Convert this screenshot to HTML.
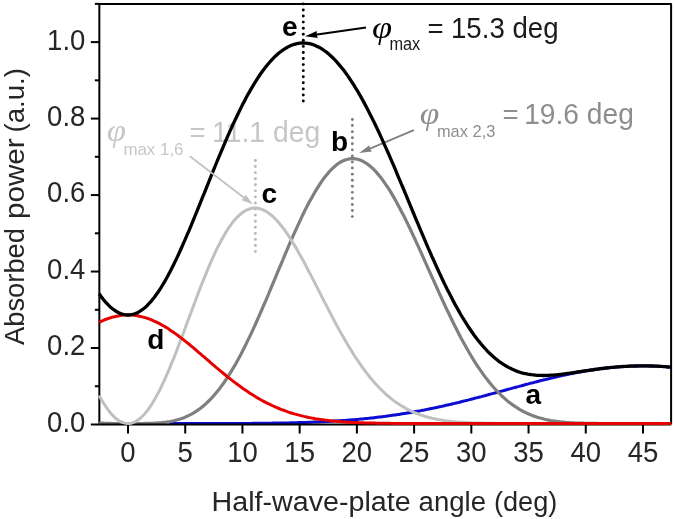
<!DOCTYPE html>
<html><head><meta charset="utf-8"><title>Absorbed power vs half-wave-plate angle</title>
<style>html,body{margin:0;padding:0;background:#fff;overflow:hidden}svg{display:block}</style>
</head><body>
<svg width="675" height="519" viewBox="0 0 675 519"><rect width="675" height="519" fill="#fff"/>
<path d="M99.35 424.5 V4.0 H671.1 V424.5" fill="none" stroke="#000" stroke-width="2" stroke-linejoin="round"/>
<line x1="90.85" y1="424.50" x2="99.35" y2="424.50" stroke="#000" stroke-width="2"/>
<line x1="94.85" y1="386.26" x2="99.35" y2="386.26" stroke="#000" stroke-width="2"/>
<line x1="90.85" y1="348.02" x2="99.35" y2="348.02" stroke="#000" stroke-width="2"/>
<line x1="94.85" y1="309.78" x2="99.35" y2="309.78" stroke="#000" stroke-width="2"/>
<line x1="90.85" y1="271.54" x2="99.35" y2="271.54" stroke="#000" stroke-width="2"/>
<line x1="94.85" y1="233.30" x2="99.35" y2="233.30" stroke="#000" stroke-width="2"/>
<line x1="90.85" y1="195.06" x2="99.35" y2="195.06" stroke="#000" stroke-width="2"/>
<line x1="94.85" y1="156.82" x2="99.35" y2="156.82" stroke="#000" stroke-width="2"/>
<line x1="90.85" y1="118.58" x2="99.35" y2="118.58" stroke="#000" stroke-width="2"/>
<line x1="94.85" y1="80.34" x2="99.35" y2="80.34" stroke="#000" stroke-width="2"/>
<line x1="90.85" y1="42.10" x2="99.35" y2="42.10" stroke="#000" stroke-width="2"/>
<line x1="94.85" y1="3.86" x2="99.35" y2="3.86" stroke="#000" stroke-width="2"/>
<line x1="128.00" y1="424.5" x2="128.00" y2="433.5" stroke="#000" stroke-width="2"/>
<line x1="185.22" y1="424.5" x2="185.22" y2="433.5" stroke="#000" stroke-width="2"/>
<line x1="242.44" y1="424.5" x2="242.44" y2="433.5" stroke="#000" stroke-width="2"/>
<line x1="299.66" y1="424.5" x2="299.66" y2="433.5" stroke="#000" stroke-width="2"/>
<line x1="356.88" y1="424.5" x2="356.88" y2="433.5" stroke="#000" stroke-width="2"/>
<line x1="414.10" y1="424.5" x2="414.10" y2="433.5" stroke="#000" stroke-width="2"/>
<line x1="471.32" y1="424.5" x2="471.32" y2="433.5" stroke="#000" stroke-width="2"/>
<line x1="528.54" y1="424.5" x2="528.54" y2="433.5" stroke="#000" stroke-width="2"/>
<line x1="585.76" y1="424.5" x2="585.76" y2="433.5" stroke="#000" stroke-width="2"/>
<line x1="642.98" y1="424.5" x2="642.98" y2="433.5" stroke="#000" stroke-width="2"/>
<text transform="translate(85.3 431.90) scale(1 1.065)" font-family="'Liberation Sans', sans-serif" font-size="27.5" text-anchor="end" fill="#262626">0.0</text>
<text transform="translate(85.3 355.42) scale(1 1.065)" font-family="'Liberation Sans', sans-serif" font-size="27.5" text-anchor="end" fill="#262626">0.2</text>
<text transform="translate(85.3 278.94) scale(1 1.065)" font-family="'Liberation Sans', sans-serif" font-size="27.5" text-anchor="end" fill="#262626">0.4</text>
<text transform="translate(85.3 202.46) scale(1 1.065)" font-family="'Liberation Sans', sans-serif" font-size="27.5" text-anchor="end" fill="#262626">0.6</text>
<text transform="translate(85.3 125.98) scale(1 1.065)" font-family="'Liberation Sans', sans-serif" font-size="27.5" text-anchor="end" fill="#262626">0.8</text>
<text transform="translate(85.3 49.50) scale(1 1.065)" font-family="'Liberation Sans', sans-serif" font-size="27.5" text-anchor="end" fill="#262626">1.0</text>
<text transform="translate(128.00 461.7) scale(1 1.065)" font-family="'Liberation Sans', sans-serif" font-size="27.5" text-anchor="middle" fill="#262626">0</text>
<text transform="translate(185.22 461.7) scale(1 1.065)" font-family="'Liberation Sans', sans-serif" font-size="27.5" text-anchor="middle" fill="#262626">5</text>
<text transform="translate(242.44 461.7) scale(1 1.065)" font-family="'Liberation Sans', sans-serif" font-size="27.5" text-anchor="middle" fill="#262626">10</text>
<text transform="translate(299.66 461.7) scale(1 1.065)" font-family="'Liberation Sans', sans-serif" font-size="27.5" text-anchor="middle" fill="#262626">15</text>
<text transform="translate(356.88 461.7) scale(1 1.065)" font-family="'Liberation Sans', sans-serif" font-size="27.5" text-anchor="middle" fill="#262626">20</text>
<text transform="translate(414.10 461.7) scale(1 1.065)" font-family="'Liberation Sans', sans-serif" font-size="27.5" text-anchor="middle" fill="#262626">25</text>
<text transform="translate(471.32 461.7) scale(1 1.065)" font-family="'Liberation Sans', sans-serif" font-size="27.5" text-anchor="middle" fill="#262626">30</text>
<text transform="translate(528.54 461.7) scale(1 1.065)" font-family="'Liberation Sans', sans-serif" font-size="27.5" text-anchor="middle" fill="#262626">35</text>
<text transform="translate(585.76 461.7) scale(1 1.065)" font-family="'Liberation Sans', sans-serif" font-size="27.5" text-anchor="middle" fill="#262626">40</text>
<text transform="translate(642.98 461.7) scale(1 1.065)" font-family="'Liberation Sans', sans-serif" font-size="27.5" text-anchor="middle" fill="#262626">45</text>
<text x="211.50" y="510.50" font-family="'Liberation Sans', sans-serif" font-size="27" textLength="199.1" lengthAdjust="spacingAndGlyphs" fill="#262626">Half-wave-plate</text>
<text x="418.60" y="510.50" font-family="'Liberation Sans', sans-serif" font-size="27" textLength="67.4" lengthAdjust="spacingAndGlyphs" fill="#262626">angle</text>
<text x="493.90" y="510.50" font-family="'Liberation Sans', sans-serif" font-size="27" textLength="63.4" lengthAdjust="spacingAndGlyphs" fill="#262626">(deg)</text>
<text transform="translate(23.5 345.00) rotate(-90)" font-family="'Liberation Sans', sans-serif" font-size="27" textLength="117.0" lengthAdjust="spacingAndGlyphs" fill="#262626">Absorbed</text>
<text transform="translate(23.5 219.00) rotate(-90)" font-family="'Liberation Sans', sans-serif" font-size="27" textLength="80.7" lengthAdjust="spacingAndGlyphs" fill="#262626">power</text>
<text transform="translate(23.5 132.40) rotate(-90)" font-family="'Liberation Sans', sans-serif" font-size="27" textLength="64.2" lengthAdjust="spacingAndGlyphs" fill="#262626">(a.u.)</text>
<text transform="translate(106.66 141.28) scale(0.3480 0.3059)" font-family="'Liberation Serif', serif" font-style="italic" font-size="100" fill="#c6c6c6">&#x3c6;</text>
<text x="123.40" y="154.70" font-family="'Liberation Sans', sans-serif" font-size="17" textLength="60.1" lengthAdjust="spacingAndGlyphs" fill="#c6c6c6">max 1,6</text>
<text x="189.4" y="141.6" font-family="'Liberation Sans', sans-serif" font-size="27.5" fill="#c6c6c6">=</text>
<text transform="translate(212.00 141.60) scale(1 1.04)" font-family="'Liberation Sans', sans-serif" font-size="27.5" textLength="108.2" lengthAdjust="spacingAndGlyphs" fill="#c6c6c6">11.1 deg</text>
<text transform="translate(419.84 123.95) scale(0.3540 0.3118)" font-family="'Liberation Serif', serif" font-style="italic" font-size="100" fill="#8e8e8e">&#x3c6;</text>
<text x="436.90" y="136.80" font-family="'Liberation Sans', sans-serif" font-size="17" textLength="58.5" lengthAdjust="spacingAndGlyphs" fill="#8e8e8e">max 2,3</text>
<text x="502.4" y="124.0" font-family="'Liberation Sans', sans-serif" font-size="27.5" fill="#8e8e8e">=</text>
<text transform="translate(524.20 123.90) scale(1 1.04)" font-family="'Liberation Sans', sans-serif" font-size="27.5" textLength="109.6" lengthAdjust="spacingAndGlyphs" fill="#8e8e8e">19.6 deg</text>
<text transform="translate(372.01 37.55) scale(0.3640 0.3074)" font-family="'Liberation Serif', serif" font-style="italic" font-size="100" fill="#000">&#x3c6;</text>
<text x="389.40" y="50.20" font-family="'Liberation Sans', sans-serif" font-size="17.5" textLength="30.9" lengthAdjust="spacingAndGlyphs" fill="#1a1a1a">max</text>
<text x="427.5" y="37.6" font-family="'Liberation Sans', sans-serif" font-size="27.5" fill="#1a1a1a">=</text>
<text transform="translate(451.00 37.60) scale(1 1.04)" font-family="'Liberation Sans', sans-serif" font-size="27.5" textLength="107.5" lengthAdjust="spacingAndGlyphs" fill="#1a1a1a">15.3 deg</text>
<circle cx="255.40" cy="160.50" r="1.45" fill="#b8b8b8"/><circle cx="255.40" cy="166.57" r="1.45" fill="#b8b8b8"/><circle cx="255.40" cy="172.64" r="1.45" fill="#b8b8b8"/><circle cx="255.40" cy="178.71" r="1.45" fill="#b8b8b8"/><circle cx="255.40" cy="184.78" r="1.45" fill="#b8b8b8"/><circle cx="255.40" cy="190.85" r="1.45" fill="#b8b8b8"/><circle cx="255.40" cy="196.92" r="1.45" fill="#b8b8b8"/><circle cx="255.40" cy="202.99" r="1.45" fill="#b8b8b8"/><circle cx="255.40" cy="209.06" r="1.45" fill="#b8b8b8"/><circle cx="255.40" cy="215.13" r="1.45" fill="#b8b8b8"/><circle cx="255.40" cy="221.20" r="1.45" fill="#b8b8b8"/><circle cx="255.40" cy="227.27" r="1.45" fill="#b8b8b8"/><circle cx="255.40" cy="233.34" r="1.45" fill="#b8b8b8"/><circle cx="255.40" cy="239.41" r="1.45" fill="#b8b8b8"/><circle cx="255.40" cy="245.48" r="1.45" fill="#b8b8b8"/><circle cx="255.40" cy="251.55" r="1.45" fill="#b8b8b8"/>
<circle cx="352.35" cy="119.50" r="1.45" fill="#7c7c7c"/><circle cx="352.35" cy="125.57" r="1.45" fill="#7c7c7c"/><circle cx="352.35" cy="131.64" r="1.45" fill="#7c7c7c"/><circle cx="352.35" cy="137.71" r="1.45" fill="#7c7c7c"/><circle cx="352.35" cy="143.78" r="1.45" fill="#7c7c7c"/><circle cx="352.35" cy="149.85" r="1.45" fill="#7c7c7c"/><circle cx="352.35" cy="155.92" r="1.45" fill="#7c7c7c"/><circle cx="352.35" cy="161.99" r="1.45" fill="#7c7c7c"/><circle cx="352.35" cy="168.06" r="1.45" fill="#7c7c7c"/><circle cx="352.35" cy="174.13" r="1.45" fill="#7c7c7c"/><circle cx="352.35" cy="180.20" r="1.45" fill="#7c7c7c"/><circle cx="352.35" cy="186.27" r="1.45" fill="#7c7c7c"/><circle cx="352.35" cy="192.34" r="1.45" fill="#7c7c7c"/><circle cx="352.35" cy="198.41" r="1.45" fill="#7c7c7c"/><circle cx="352.35" cy="204.48" r="1.45" fill="#7c7c7c"/><circle cx="352.35" cy="210.55" r="1.45" fill="#7c7c7c"/><circle cx="352.35" cy="216.62" r="1.45" fill="#7c7c7c"/>
<circle cx="303.30" cy="3.90" r="1.45" fill="#000"/><circle cx="303.30" cy="9.97" r="1.45" fill="#000"/><circle cx="303.30" cy="16.04" r="1.45" fill="#000"/><circle cx="303.30" cy="22.11" r="1.45" fill="#000"/><circle cx="303.30" cy="28.18" r="1.45" fill="#000"/><circle cx="303.30" cy="34.25" r="1.45" fill="#000"/><circle cx="303.30" cy="40.32" r="1.45" fill="#000"/><circle cx="303.30" cy="46.39" r="1.45" fill="#000"/><circle cx="303.30" cy="52.46" r="1.45" fill="#000"/><circle cx="303.30" cy="58.53" r="1.45" fill="#000"/><circle cx="303.30" cy="64.60" r="1.45" fill="#000"/><circle cx="303.30" cy="70.67" r="1.45" fill="#000"/><circle cx="303.30" cy="76.74" r="1.45" fill="#000"/><circle cx="303.30" cy="82.81" r="1.45" fill="#000"/><circle cx="303.30" cy="88.88" r="1.45" fill="#000"/><circle cx="303.30" cy="94.95" r="1.45" fill="#000"/><circle cx="303.30" cy="101.02" r="1.45" fill="#000"/>
<line x1="413.90" y1="130.20" x2="368.79" y2="149.05" stroke="#808080" stroke-width="1.8"/><polygon points="359.10,153.10 369.32,145.14 369.90,148.59 371.94,151.42" fill="#808080"/>
<path d="M169.2 423.5 L170.9 423.5 L172.6 423.5 L174.2 423.5 L175.9 423.5 L177.6 423.5 L179.3 423.5 L180.9 423.5 L182.6 423.5 L184.3 423.5 L186.0 423.5 L187.7 423.5 L189.3 423.5 L191.0 423.5 L192.7 423.5 L194.4 423.5 L196.1 423.5 L197.7 423.5 L199.4 423.5 L201.1 423.5 L202.8 423.5 L204.4 423.5 L206.1 423.5 L207.8 423.5 L209.5 423.5 L211.2 423.5 L212.8 423.5 L214.5 423.5 L216.2 423.5 L217.9 423.5 L219.5 423.5 L221.2 423.5 L222.9 423.5 L224.6 423.5 L226.3 423.5 L227.9 423.5 L229.6 423.5 L231.3 423.4 L233.0 423.4 L234.7 423.4 L236.3 423.4 L238.0 423.4 L239.7 423.4 L241.4 423.4 L243.0 423.4 L244.7 423.4 L246.4 423.4 L248.1 423.4 L249.8 423.4 L251.4 423.4 L253.1 423.3 L254.8 423.3 L256.5 423.3 L258.1 423.3 L259.8 423.3 L261.5 423.3 L263.2 423.3 L264.9 423.2 L266.5 423.2 L268.2 423.2 L269.9 423.2 L271.6 423.2 L273.3 423.1 L274.9 423.1 L276.6 423.1 L278.3 423.1 L280.0 423.0 L281.6 423.0 L283.3 423.0 L285.0 422.9 L286.7 422.9 L288.4 422.9 L290.0 422.8 L291.7 422.8 L293.4 422.8 L295.1 422.7 L296.8 422.7 L298.4 422.6 L300.1 422.6 L301.8 422.5 L303.5 422.5 L305.1 422.4 L306.8 422.4 L308.5 422.3 L310.2 422.3 L311.9 422.2 L313.5 422.1 L315.2 422.1 L316.9 422.0 L318.6 421.9 L320.2 421.8 L321.9 421.8 L323.6 421.7 L325.3 421.6 L327.0 421.5 L328.6 421.4 L330.3 421.3 L332.0 421.2 L333.7 421.1 L335.4 421.0 L337.0 420.9 L338.7 420.8 L340.4 420.7 L342.1 420.6 L343.7 420.5 L345.4 420.4 L347.1 420.2 L348.8 420.1 L350.5 420.0 L352.1 419.8 L353.8 419.7 L355.5 419.6 L357.2 419.4 L358.8 419.3 L360.5 419.1 L362.2 418.9 L363.9 418.8 L365.6 418.6 L367.2 418.4 L368.9 418.3 L370.6 418.1 L372.3 417.9 L374.0 417.7 L375.6 417.5 L377.3 417.3 L379.0 417.1 L380.7 416.9 L382.3 416.7 L384.0 416.5 L385.7 416.3 L387.4 416.0 L389.1 415.8 L390.7 415.6 L392.4 415.3 L394.1 415.1 L395.8 414.9 L397.5 414.6 L399.1 414.4 L400.8 414.1 L402.5 413.8 L404.2 413.6 L405.8 413.3 L407.5 413.0 L409.2 412.7 L410.9 412.4 L412.6 412.1 L414.2 411.8 L415.9 411.5 L417.6 411.2 L419.3 410.9 L420.9 410.6 L422.6 410.3 L424.3 410.0 L426.0 409.6 L427.7 409.3 L429.3 408.9 L431.0 408.6 L432.7 408.3 L434.4 407.9 L436.1 407.6 L437.7 407.2 L439.4 406.8 L441.1 406.5 L442.8 406.1 L444.4 405.7 L446.1 405.3 L447.8 404.9 L449.5 404.6 L451.2 404.2 L452.8 403.8 L454.5 403.4 L456.2 403.0 L457.9 402.6 L459.5 402.2 L461.2 401.7 L462.9 401.3 L464.6 400.9 L466.3 400.5 L467.9 400.1 L469.6 399.6 L471.3 399.2 L473.0 398.8 L474.7 398.3 L476.3 397.9 L478.0 397.5 L479.7 397.0 L481.4 396.6 L483.0 396.1 L484.7 395.7 L486.4 395.2 L488.1 394.8 L489.8 394.3 L491.4 393.9 L493.1 393.4 L494.8 393.0 L496.5 392.5 L498.2 392.1 L499.8 391.6 L501.5 391.1 L503.2 390.7 L504.9 390.2 L506.5 389.8 L508.2 389.3 L509.9 388.9 L511.6 388.4 L513.3 387.9 L514.9 387.5 L516.6 387.0 L518.3 386.6 L520.0 386.1 L521.6 385.7 L523.3 385.2 L525.0 384.8 L526.7 384.3 L528.4 383.9 L530.0 383.4 L531.7 383.0 L533.4 382.6 L535.1 382.1 L536.8 381.7 L538.4 381.3 L540.1 380.8 L541.8 380.4 L543.5 380.0 L545.1 379.6 L546.8 379.2 L548.5 378.8 L550.2 378.4 L551.9 378.0 L553.5 377.6 L555.2 377.2 L556.9 376.8 L558.6 376.4 L560.2 376.0 L561.9 375.6 L563.6 375.3 L565.3 374.9 L567.0 374.6 L568.6 374.2 L570.3 373.9 L572.0 373.5 L573.7 373.2 L575.4 372.8 L577.0 372.5 L578.7 372.2 L580.4 371.9 L582.1 371.6 L583.7 371.3 L585.4 371.0 L587.1 370.7 L588.8 370.5 L590.5 370.2 L592.1 369.9 L593.8 369.7 L595.5 369.4 L597.2 369.2 L598.8 369.0 L600.5 368.7 L602.2 368.5 L603.9 368.3 L605.6 368.1 L607.2 367.9 L608.9 367.7 L610.6 367.6 L612.3 367.4 L614.0 367.2 L615.6 367.1 L617.3 367.0 L619.0 366.8 L620.7 366.7 L622.3 366.6 L624.0 366.5 L625.7 366.4 L627.4 366.3 L629.1 366.2 L630.7 366.1 L632.4 366.1 L634.1 366.0 L635.8 366.0 L637.5 365.9 L639.1 365.9 L640.8 365.9 L642.5 365.9 L644.2 365.9 L645.8 365.9 L647.5 365.9 L649.2 366.0 L650.9 366.0 L652.6 366.0 L654.2 366.1 L655.9 366.2 L657.6 366.2 L659.3 366.3 L660.9 366.4 L662.6 366.5 L664.3 366.6 L666.0 366.7 L667.7 366.9 L669.3 367.0 L671.0 367.2" fill="none" stroke="#0c0cd2" stroke-width="3"/>
<path d="M99.2 423.1 L101.1 423.2 L103.0 423.2 L104.9 423.3 L106.8 423.4 L108.7 423.4 L110.6 423.4 L112.5 423.5 L114.5 423.5 L116.4 423.5 L118.3 423.5 L120.2 423.5 L122.1 423.5 L124.0 423.5 L125.9 423.5 L127.8 423.5 L129.8 423.5 L131.7 423.5 L133.6 423.5 L135.5 423.5 L137.4 423.5 L139.3 423.5 L141.2 423.5 L143.2 423.5 L145.1 423.4 L147.0 423.4 L148.9 423.4 L150.8 423.3 L152.7 423.3 L154.6 423.2 L156.5 423.1 L158.5 422.9 L160.4 422.8 L162.3 422.6 L164.2 422.4 L166.1 422.2 L168.0 421.9 L169.9 421.6 L171.8 421.2 L173.8 420.8 L175.7 420.3 L177.6 419.8 L179.5 419.2 L181.4 418.6 L183.3 417.9 L185.2 417.1 L187.1 416.3 L189.1 415.4 L191.0 414.4 L192.9 413.3 L194.8 412.2 L196.7 410.9 L198.6 409.6 L200.5 408.2 L202.4 406.7 L204.4 405.1 L206.3 403.3 L208.2 401.5 L210.1 399.6 L212.0 397.6 L213.9 395.5 L215.8 393.2 L217.7 390.9 L219.7 388.5 L221.6 385.9 L223.5 383.3 L225.4 380.5 L227.3 377.6 L229.2 374.7 L231.1 371.6 L233.0 368.4 L235.0 365.1 L236.9 361.7 L238.8 358.2 L240.7 354.7 L242.6 351.0 L244.5 347.2 L246.4 343.4 L248.3 339.4 L250.3 335.4 L252.2 331.3 L254.1 327.2 L256.0 323.0 L257.9 318.7 L259.8 314.4 L261.7 310.0 L263.6 305.5 L265.6 301.1 L267.5 296.5 L269.4 292.0 L271.3 287.4 L273.2 282.9 L275.1 278.3 L277.0 273.7 L278.9 269.1 L280.9 264.5 L282.8 260.0 L284.7 255.4 L286.6 250.9 L288.5 246.4 L290.4 242.0 L292.3 237.6 L294.2 233.3 L296.2 229.1 L298.1 224.9 L300.0 220.8 L301.9 216.7 L303.8 212.8 L305.7 208.9 L307.6 205.2 L309.5 201.6 L311.5 198.1 L313.4 194.7 L315.3 191.4 L317.2 188.3 L319.1 185.3 L321.0 182.4 L322.9 179.7 L324.8 177.1 L326.8 174.7 L328.7 172.4 L330.6 170.3 L332.5 168.4 L334.4 166.7 L336.3 165.1 L338.2 163.6 L340.1 162.4 L342.1 161.3 L344.0 160.4 L345.9 159.7 L347.8 159.2 L349.7 158.8 L351.6 158.7 L353.5 158.7 L355.4 158.9 L357.4 159.2 L359.3 159.8 L361.2 160.5 L363.1 161.4 L365.0 162.5 L366.9 163.7 L368.8 165.1 L370.7 166.7 L372.7 168.4 L374.6 170.3 L376.5 172.4 L378.4 174.6 L380.3 176.9 L382.2 179.4 L384.1 182.1 L386.0 184.8 L388.0 187.7 L389.9 190.7 L391.8 193.9 L393.7 197.1 L395.6 200.5 L397.5 204.0 L399.4 207.5 L401.3 211.2 L403.3 214.9 L405.2 218.7 L407.1 222.6 L409.0 226.5 L410.9 230.5 L412.8 234.6 L414.7 238.7 L416.6 242.9 L418.6 247.1 L420.5 251.3 L422.4 255.5 L424.3 259.8 L426.2 264.1 L428.1 268.4 L430.0 272.6 L431.9 276.9 L433.9 281.2 L435.8 285.4 L437.7 289.7 L439.6 293.9 L441.5 298.0 L443.4 302.2 L445.3 306.3 L447.2 310.3 L449.2 314.3 L451.1 318.3 L453.0 322.2 L454.9 326.0 L456.8 329.8 L458.7 333.5 L460.6 337.2 L462.5 340.7 L464.5 344.2 L466.4 347.7 L468.3 351.0 L470.2 354.3 L472.1 357.5 L474.0 360.6 L475.9 363.6 L477.8 366.5 L479.8 369.3 L481.7 372.1 L483.6 374.8 L485.5 377.4 L487.4 379.8 L489.3 382.3 L491.2 384.6 L493.1 386.8 L495.1 389.0 L497.0 391.0 L498.9 393.0 L500.8 394.9 L502.7 396.7 L504.6 398.4 L506.5 400.1 L508.4 401.7 L510.4 403.2 L512.3 404.6 L514.2 405.9 L516.1 407.2 L518.0 408.4 L519.9 409.6 L521.8 410.6 L523.8 411.7 L525.7 412.6 L527.6 413.5 L529.5 414.3 L531.4 415.1 L533.3 415.9 L535.2 416.5 L537.1 417.2 L539.1 417.8 L541.0 418.3 L542.9 418.8 L544.8 419.3 L546.7 419.7 L548.6 420.1 L550.5 420.5 L552.4 420.8 L554.4 421.1 L556.3 421.4 L558.2 421.6 L560.1 421.8 L562.0 422.1 L563.9 422.2 L565.8 422.4 L567.7 422.5 L569.7 422.7 L571.6 422.8 L573.5 422.9 L575.4 423.0 L577.3 423.1 L579.2 423.1 L581.1 423.2 L583.0 423.2 L585.0 423.3 L586.9 423.3 L588.8 423.4 L590.7 423.4 L592.6 423.4 L594.5 423.4 L596.4 423.4 L598.3 423.5 L600.3 423.5 L602.2 423.5 L604.1 423.5 L606.0 423.5 L607.9 423.5 L609.8 423.5 L611.7 423.5 L613.6 423.5 L615.6 423.5 L617.5 423.5 L619.4 423.5 L621.3 423.5 L623.2 423.5 L625.1 423.5 L627.0 423.5 L628.9 423.5 L630.9 423.5 L632.8 423.5 L634.7 423.5 L636.6 423.5 L638.5 423.5 L640.4 423.5 L642.3 423.5 L644.2 423.5 L646.2 423.5 L648.1 423.5 L650.0 423.5 L651.9 423.5 L653.8 423.5 L655.7 423.5 L657.6 423.5 L659.5 423.5 L661.5 423.5 L663.4 423.5 L665.3 423.5 L667.2 423.5 L669.1 423.5 L671.0 423.5" fill="none" stroke="#7f7f7f" stroke-width="3.2"/>
<line x1="99.35" y1="424.5" x2="671.1" y2="424.5" stroke="#000" stroke-width="2"/>
<path d="M99.2 395.5 L101.1 398.9 L103.0 402.2 L104.9 405.2 L106.8 408.0 L108.7 410.6 L110.6 413.0 L112.5 415.2 L114.5 417.1 L116.4 418.8 L118.3 420.2 L120.2 421.4 L122.1 422.3 L124.0 422.9 L125.9 423.3 L127.8 423.5 L129.8 423.4 L131.7 423.0 L133.6 422.4 L135.5 421.5 L137.4 420.4 L139.3 419.0 L141.2 417.4 L143.2 415.5 L145.1 413.4 L147.0 411.0 L148.9 408.5 L150.8 405.7 L152.7 402.7 L154.6 399.4 L156.5 396.0 L158.5 392.4 L160.4 388.7 L162.3 384.7 L164.2 380.6 L166.1 376.4 L168.0 372.0 L169.9 367.4 L171.8 362.8 L173.8 358.1 L175.7 353.2 L177.6 348.3 L179.5 343.3 L181.4 338.3 L183.3 333.2 L185.2 328.1 L187.1 322.9 L189.1 317.8 L191.0 312.6 L192.9 307.5 L194.8 302.4 L196.7 297.3 L198.6 292.3 L200.5 287.3 L202.4 282.4 L204.4 277.6 L206.3 272.9 L208.2 268.3 L210.1 263.9 L212.0 259.5 L213.9 255.3 L215.8 251.2 L217.7 247.2 L219.7 243.5 L221.6 239.8 L223.5 236.4 L225.4 233.1 L227.3 230.0 L229.2 227.2 L231.1 224.5 L233.0 221.9 L235.0 219.6 L236.9 217.5 L238.8 215.6 L240.7 214.0 L242.6 212.5 L244.5 211.2 L246.4 210.2 L248.3 209.3 L250.3 208.7 L252.2 208.3 L254.1 208.1 L256.0 208.1 L257.9 208.3 L259.8 208.7 L261.7 209.3 L263.6 210.1 L265.6 211.1 L267.5 212.2 L269.4 213.6 L271.3 215.1 L273.2 216.8 L275.1 218.7 L277.0 220.7 L278.9 222.8 L280.9 225.2 L282.8 227.6 L284.7 230.2 L286.6 232.9 L288.5 235.8 L290.4 238.7 L292.3 241.8 L294.2 244.9 L296.2 248.1 L298.1 251.5 L300.0 254.9 L301.9 258.3 L303.8 261.8 L305.7 265.4 L307.6 269.1 L309.5 272.7 L311.5 276.4 L313.4 280.1 L315.3 283.9 L317.2 287.6 L319.1 291.4 L321.0 295.1 L322.9 298.9 L324.8 302.6 L326.8 306.4 L328.7 310.1 L330.6 313.7 L332.5 317.4 L334.4 321.0 L336.3 324.6 L338.2 328.1 L340.1 331.5 L342.1 335.0 L344.0 338.3 L345.9 341.6 L347.8 344.9 L349.7 348.0 L351.6 351.1 L353.5 354.2 L355.4 357.2 L357.4 360.0 L359.3 362.9 L361.2 365.6 L363.1 368.3 L365.0 370.9 L366.9 373.4 L368.8 375.8 L370.7 378.2 L372.7 380.5 L374.6 382.7 L376.5 384.8 L378.4 386.8 L380.3 388.8 L382.2 390.7 L384.1 392.5 L386.0 394.3 L388.0 396.0 L389.9 397.6 L391.8 399.1 L393.7 400.6 L395.6 402.0 L397.5 403.3 L399.4 404.6 L401.3 405.8 L403.3 406.9 L405.2 408.0 L407.1 409.1 L409.0 410.0 L410.9 411.0 L412.8 411.8 L414.7 412.7 L416.6 413.4 L418.6 414.2 L420.5 414.9 L422.4 415.5 L424.3 416.1 L426.2 416.7 L428.1 417.2 L430.0 417.7 L431.9 418.2 L433.9 418.6 L435.8 419.0 L437.7 419.4 L439.6 419.7 L441.5 420.1 L443.4 420.4 L445.3 420.7 L447.2 420.9 L449.2 421.1 L451.1 421.4 L453.0 421.6 L454.9 421.7 L456.8 421.9 L458.7 422.1 L460.6 422.2 L462.5 422.3 L464.5 422.5 L466.4 422.6 L468.3 422.7 L470.2 422.8 L472.1 422.8 L474.0 422.9 L475.9 423.0 L477.8 423.0 L479.8 423.1 L481.7 423.1 L483.6 423.2 L485.5 423.2 L487.4 423.3 L489.3 423.3 L491.2 423.3 L493.1 423.3 L495.1 423.4 L497.0 423.4 L498.9 423.4 L500.8 423.4 L502.7 423.4 L504.6 423.4 L506.5 423.4 L508.4 423.4 L510.4 423.5 L512.3 423.5 L514.2 423.5 L516.1 423.5 L518.0 423.5 L519.9 423.5 L521.8 423.5 L523.8 423.5 L525.7 423.5 L527.6 423.5 L529.5 423.5 L531.4 423.5 L533.3 423.5 L535.2 423.5 L537.1 423.5 L539.1 423.5 L541.0 423.5 L542.9 423.5 L544.8 423.5 L546.7 423.5 L548.6 423.5 L550.5 423.5 L552.4 423.5 L554.4 423.5 L556.3 423.5 L558.2 423.5 L560.1 423.5 L562.0 423.5 L563.9 423.5 L565.8 423.5 L567.7 423.5 L569.7 423.5 L571.6 423.5 L573.5 423.5 L575.4 423.5 L577.3 423.5 L579.2 423.5 L581.1 423.5 L583.0 423.5 L585.0 423.5 L586.9 423.5 L588.8 423.5 L590.7 423.5 L592.6 423.5 L594.5 423.5 L596.4 423.5 L598.3 423.5 L600.3 423.5 L602.2 423.5 L604.1 423.5 L606.0 423.5 L607.9 423.5 L609.8 423.5 L611.7 423.5 L613.6 423.5 L615.6 423.5 L617.5 423.5 L619.4 423.5 L621.3 423.5 L623.2 423.5 L625.1 423.5 L627.0 423.5 L628.9 423.5 L630.9 423.5 L632.8 423.5 L634.7 423.5 L636.6 423.5 L638.5 423.5 L640.4 423.5 L642.3 423.5 L644.2 423.5 L646.2 423.5 L648.1 423.5 L650.0 423.5 L651.9 423.5 L653.8 423.5 L655.7 423.5 L657.6 423.5 L659.5 423.5 L661.5 423.5 L663.4 423.5 L665.3 423.5 L667.2 423.5 L669.1 423.5 L671.0 423.5" fill="none" stroke="#c0c0c0" stroke-width="3"/>
<path d="M99.2 322.3 L101.1 321.4 L103.0 320.5 L104.9 319.7 L106.8 319.0 L108.7 318.3 L110.6 317.7 L112.5 317.1 L114.5 316.7 L116.4 316.2 L118.3 315.9 L120.2 315.6 L122.1 315.3 L124.0 315.1 L125.9 315.0 L127.8 315.0 L129.8 315.0 L131.7 315.1 L133.6 315.3 L135.5 315.5 L137.4 315.8 L139.3 316.2 L141.2 316.6 L143.2 317.1 L145.1 317.6 L147.0 318.2 L148.9 318.9 L150.8 319.6 L152.7 320.4 L154.6 321.3 L156.5 322.2 L158.5 323.1 L160.4 324.1 L162.3 325.2 L164.2 326.3 L166.1 327.4 L168.0 328.6 L169.9 329.9 L171.8 331.2 L173.8 332.5 L175.7 333.9 L177.6 335.3 L179.5 336.7 L181.4 338.1 L183.3 339.6 L185.2 341.1 L187.1 342.7 L189.1 344.2 L191.0 345.8 L192.9 347.4 L194.8 349.0 L196.7 350.6 L198.6 352.3 L200.5 353.9 L202.4 355.6 L204.4 357.2 L206.3 358.9 L208.2 360.5 L210.1 362.2 L212.0 363.8 L213.9 365.4 L215.8 367.1 L217.7 368.7 L219.7 370.3 L221.6 371.9 L223.5 373.5 L225.4 375.0 L227.3 376.6 L229.2 378.1 L231.1 379.6 L233.0 381.1 L235.0 382.6 L236.9 384.0 L238.8 385.4 L240.7 386.8 L242.6 388.2 L244.5 389.5 L246.4 390.8 L248.3 392.1 L250.3 393.4 L252.2 394.6 L254.1 395.8 L256.0 397.0 L257.9 398.1 L259.8 399.2 L261.7 400.3 L263.6 401.3 L265.6 402.3 L267.5 403.3 L269.4 404.2 L271.3 405.1 L273.2 406.0 L275.1 406.9 L277.0 407.7 L278.9 408.5 L280.9 409.3 L282.8 410.0 L284.7 410.7 L286.6 411.4 L288.5 412.1 L290.4 412.7 L292.3 413.3 L294.2 413.9 L296.2 414.4 L298.1 414.9 L300.0 415.4 L301.9 415.9 L303.8 416.4 L305.7 416.8 L307.6 417.2 L309.5 417.6 L311.5 418.0 L313.4 418.3 L315.3 418.7 L317.2 419.0 L319.1 419.3 L321.0 419.6 L322.9 419.8 L324.8 420.1 L326.8 420.3 L328.7 420.6 L330.6 420.8 L332.5 421.0 L334.4 421.1 L336.3 421.3 L338.2 421.5 L340.1 421.6 L342.1 421.8 L344.0 421.9 L345.9 422.0 L347.8 422.2 L349.7 422.3 L351.6 422.4 L353.5 422.5 L355.4 422.5 L357.4 422.6 L359.3 422.7 L361.2 422.8 L363.1 422.8 L365.0 422.9 L366.9 422.9 L368.8 423.0 L370.7 423.0 L372.7 423.1 L374.6 423.1 L376.5 423.2 L378.4 423.2 L380.3 423.2 L382.2 423.2 L384.1 423.3 L386.0 423.3 L388.0 423.3 L389.9 423.3 L391.8 423.4 L393.7 423.4 L395.6 423.4 L397.5 423.4 L399.4 423.4 L401.3 423.4 L403.3 423.4 L405.2 423.4 L407.1 423.4 L409.0 423.4 L410.9 423.5 L412.8 423.5 L414.7 423.5 L416.6 423.5 L418.6 423.5 L420.5 423.5 L422.4 423.5 L424.3 423.5 L426.2 423.5 L428.1 423.5 L430.0 423.5 L431.9 423.5 L433.9 423.5 L435.8 423.5 L437.7 423.5 L439.6 423.5 L441.5 423.5 L443.4 423.5 L445.3 423.5 L447.2 423.5 L449.2 423.5 L451.1 423.5 L453.0 423.5 L454.9 423.5 L456.8 423.5 L458.7 423.5 L460.6 423.5 L462.5 423.5 L464.5 423.5 L466.4 423.5 L468.3 423.5 L470.2 423.5 L472.1 423.5 L474.0 423.5 L475.9 423.5 L477.8 423.5 L479.8 423.5 L481.7 423.5 L483.6 423.5 L485.5 423.5 L487.4 423.5 L489.3 423.5 L491.2 423.5 L493.1 423.5 L495.1 423.5 L497.0 423.5 L498.9 423.5 L500.8 423.5 L502.7 423.5 L504.6 423.5 L506.5 423.5 L508.4 423.5 L510.4 423.5 L512.3 423.5 L514.2 423.5 L516.1 423.5 L518.0 423.5 L519.9 423.5 L521.8 423.5 L523.8 423.5 L525.7 423.5 L527.6 423.5 L529.5 423.5 L531.4 423.5 L533.3 423.5 L535.2 423.5 L537.1 423.5 L539.1 423.5 L541.0 423.5 L542.9 423.5 L544.8 423.5 L546.7 423.5 L548.6 423.5 L550.5 423.5 L552.4 423.5 L554.4 423.5 L556.3 423.5 L558.2 423.5 L560.1 423.5 L562.0 423.5 L563.9 423.5 L565.8 423.5 L567.7 423.5 L569.7 423.5 L571.6 423.5 L573.5 423.5 L575.4 423.5 L577.3 423.5 L579.2 423.5 L581.1 423.5 L583.0 423.5 L585.0 423.5 L586.9 423.5 L588.8 423.5 L590.7 423.5 L592.6 423.5 L594.5 423.5 L596.4 423.5 L598.3 423.5 L600.3 423.5 L602.2 423.5 L604.1 423.5 L606.0 423.5 L607.9 423.5 L609.8 423.5 L611.7 423.5 L613.6 423.5 L615.6 423.5 L617.5 423.5 L619.4 423.5 L621.3 423.5 L623.2 423.5 L625.1 423.5 L627.0 423.5 L628.9 423.5 L630.9 423.5 L632.8 423.5 L634.7 423.5 L636.6 423.5 L638.5 423.5 L640.4 423.5 L642.3 423.5 L644.2 423.5 L646.2 423.5 L648.1 423.5 L650.0 423.5 L651.9 423.5 L653.8 423.5 L655.7 423.5 L657.6 423.5 L659.5 423.5 L661.5 423.5 L663.4 423.5 L665.3 423.5 L667.2 423.5 L669.1 423.5 L671.0 423.5" fill="none" stroke="#e60000" stroke-width="3"/>
<path d="M99.2 293.8 L101.1 296.5 L103.0 299.0 L104.9 301.3 L106.8 303.4 L108.7 305.4 L110.6 307.2 L112.5 308.8 L114.5 310.2 L116.4 311.5 L118.3 312.5 L120.2 313.4 L122.1 314.1 L124.0 314.6 L125.9 314.9 L127.8 315.0 L129.8 314.9 L131.7 314.6 L133.6 314.2 L135.5 313.5 L137.4 312.7 L139.3 311.6 L141.2 310.4 L143.2 309.0 L145.1 307.4 L147.0 305.7 L148.9 303.7 L150.8 301.6 L152.7 299.3 L154.6 296.9 L156.5 294.3 L158.5 291.5 L160.4 288.6 L162.3 285.5 L164.2 282.3 L166.1 279.0 L168.0 275.5 L169.9 271.9 L171.8 268.2 L173.8 264.3 L175.7 260.4 L177.6 256.4 L179.5 252.2 L181.4 248.0 L183.3 243.7 L185.2 239.3 L187.1 234.9 L189.1 230.4 L191.0 225.8 L192.9 221.2 L194.8 216.5 L196.7 211.9 L198.6 207.1 L200.5 202.4 L202.4 197.6 L204.4 192.9 L206.3 188.1 L208.2 183.4 L210.1 178.6 L212.0 173.9 L213.9 169.2 L215.8 164.5 L217.7 159.8 L219.7 155.2 L221.6 150.6 L223.5 146.1 L225.4 141.6 L227.3 137.2 L229.2 132.9 L231.1 128.6 L233.0 124.4 L235.0 120.3 L236.9 116.2 L238.8 112.3 L240.7 108.4 L242.6 104.6 L244.5 100.9 L246.4 97.3 L248.3 93.8 L250.3 90.4 L252.2 87.1 L254.1 83.9 L256.0 80.8 L257.9 77.9 L259.8 75.0 L261.7 72.3 L263.6 69.7 L265.6 67.1 L267.5 64.8 L269.4 62.5 L271.3 60.4 L273.2 58.3 L275.1 56.4 L277.0 54.7 L278.9 53.0 L280.9 51.5 L282.8 50.1 L284.7 48.8 L286.6 47.7 L288.5 46.6 L290.4 45.7 L292.3 45.0 L294.2 44.3 L296.2 43.8 L298.1 43.4 L300.0 43.1 L301.9 43.0 L303.8 43.0 L305.7 43.1 L307.6 43.3 L309.5 43.7 L311.5 44.2 L313.4 44.8 L315.3 45.5 L317.2 46.4 L319.1 47.3 L321.0 48.4 L322.9 49.6 L324.8 51.0 L326.8 52.4 L328.7 54.0 L330.6 55.7 L332.5 57.5 L334.4 59.4 L336.3 61.4 L338.2 63.6 L340.1 65.8 L342.1 68.2 L344.0 70.6 L345.9 73.2 L347.8 75.9 L349.7 78.7 L351.6 81.6 L353.5 84.5 L355.4 87.6 L357.4 90.8 L359.3 94.1 L361.2 97.4 L363.1 100.9 L365.0 104.4 L366.9 108.0 L368.8 111.7 L370.7 115.5 L372.7 119.4 L374.6 123.3 L376.5 127.3 L378.4 131.3 L380.3 135.4 L382.2 139.6 L384.1 143.9 L386.0 148.1 L388.0 152.5 L389.9 156.9 L391.8 161.3 L393.7 165.7 L395.6 170.2 L397.5 174.8 L399.4 179.3 L401.3 183.9 L403.3 188.5 L405.2 193.1 L407.1 197.7 L409.0 202.3 L410.9 206.9 L412.8 211.5 L414.7 216.1 L416.6 220.7 L418.6 225.3 L420.5 229.8 L422.4 234.3 L424.3 238.9 L426.2 243.3 L428.1 247.8 L430.0 252.1 L431.9 256.5 L433.9 260.8 L435.8 265.1 L437.7 269.2 L439.6 273.4 L441.5 277.5 L443.4 281.5 L445.3 285.4 L447.2 289.3 L449.2 293.1 L451.1 296.8 L453.0 300.5 L454.9 304.1 L456.8 307.5 L458.7 310.9 L460.6 314.3 L462.5 317.5 L464.5 320.6 L466.4 323.7 L468.3 326.6 L470.2 329.5 L472.1 332.3 L474.0 335.0 L475.9 337.5 L477.8 340.0 L479.8 342.4 L481.7 344.7 L483.6 346.9 L485.5 349.0 L487.4 351.1 L489.3 353.0 L491.2 354.8 L493.1 356.6 L495.1 358.2 L497.0 359.8 L498.9 361.3 L500.8 362.6 L502.7 363.9 L504.6 365.2 L506.5 366.3 L508.4 367.4 L510.4 368.3 L512.3 369.3 L514.2 370.1 L516.1 370.9 L518.0 371.6 L519.9 372.2 L521.8 372.8 L523.8 373.3 L525.7 373.7 L527.6 374.1 L529.5 374.4 L531.4 374.7 L533.3 374.9 L535.2 375.1 L537.1 375.3 L539.1 375.4 L541.0 375.4 L542.9 375.5 L544.8 375.5 L546.7 375.4 L548.6 375.3 L550.5 375.2 L552.4 375.1 L554.4 375.0 L556.3 374.8 L558.2 374.6 L560.1 374.4 L562.0 374.2 L563.9 373.9 L565.8 373.7 L567.7 373.4 L569.7 373.2 L571.6 372.9 L573.5 372.6 L575.4 372.3 L577.3 372.0 L579.2 371.7 L581.1 371.5 L583.0 371.2 L585.0 370.9 L586.9 370.6 L588.8 370.3 L590.7 370.0 L592.6 369.8 L594.5 369.5 L596.4 369.2 L598.3 369.0 L600.3 368.7 L602.2 368.5 L604.1 368.3 L606.0 368.0 L607.9 367.8 L609.8 367.6 L611.7 367.4 L613.6 367.3 L615.6 367.1 L617.5 366.9 L619.4 366.8 L621.3 366.7 L623.2 366.5 L625.1 366.4 L627.0 366.3 L628.9 366.2 L630.9 366.1 L632.8 366.1 L634.7 366.0 L636.6 366.0 L638.5 365.9 L640.4 365.9 L642.3 365.9 L644.2 365.9 L646.2 365.9 L648.1 365.9 L650.0 366.0 L651.9 366.0 L653.8 366.1 L655.7 366.2 L657.6 366.2 L659.5 366.3 L661.5 366.4 L663.4 366.6 L665.3 366.7 L667.2 366.8 L669.1 367.0 L671.0 367.1" fill="none" stroke="#000" stroke-width="3.3"/>
<line x1="366.00" y1="27.50" x2="315.39" y2="34.80" stroke="#000" stroke-width="1.9"/><polygon points="305.00,36.30 316.87,31.05 316.58,34.63 317.87,37.98" fill="#000"/>
<line x1="189.70" y1="156.10" x2="245.06" y2="198.52" stroke="#c0c0c0" stroke-width="1.8"/><polygon points="253.00,204.60 241.41,200.00 244.11,197.79 245.54,194.60" fill="#c0c0c0"/>
<text x="282" y="35.5" font-family="'Liberation Sans', sans-serif" font-weight="bold" font-size="28" fill="#000">e</text>
<text x="331" y="151.2" font-family="'Liberation Sans', sans-serif" font-weight="bold" font-size="28" fill="#000">b</text>
<text x="261.5" y="202.5" font-family="'Liberation Sans', sans-serif" font-weight="bold" font-size="28" fill="#000">c</text>
<text x="147.2" y="348.9" font-family="'Liberation Sans', sans-serif" font-weight="bold" font-size="28" fill="#000">d</text>
<text x="525.5" y="404.3" font-family="'Liberation Sans', sans-serif" font-weight="bold" font-size="28" fill="#000">a</text>
</svg>
</body></html>
